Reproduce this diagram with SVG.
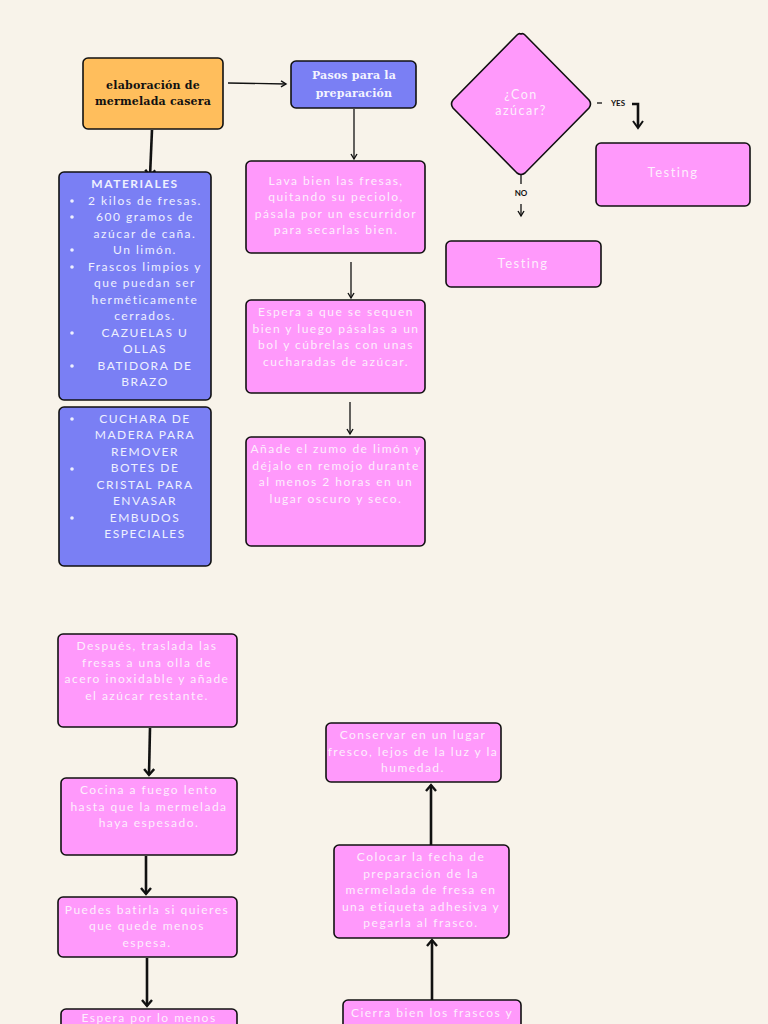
<svg xmlns="http://www.w3.org/2000/svg" width="768" height="1024" viewBox="0 0 768 1024">
<defs>
<style>
.bg{fill:#f8f3ea}
.box{stroke:#111;stroke-width:1.6}
.pink{fill:#ff99fb}
.blue{fill:#7a7ff4}
.orange{fill:#ffbe5c}
.t{font-family:Lato,"Liberation Sans",sans-serif;font-size:12px;fill:#fdeefd;text-anchor:middle;letter-spacing:1.5px}
.tl{font-size:13px}
.td{font-size:12.5px}
.tb{font-family:Lato,"Liberation Sans",sans-serif;font-size:12px;fill:#eef0ff;text-anchor:middle;letter-spacing:1.5px}
.serif{font-family:"DejaVu Serif","Liberation Serif",serif;font-size:11px;font-weight:bold;text-anchor:middle;letter-spacing:0.2px}
.lab{font-family:Lato,"Liberation Sans",sans-serif;font-size:8px;font-weight:bold;fill:#111;text-anchor:middle}
.c1{stroke:#111;stroke-width:1.3;fill:none}
.c2{stroke:#111;stroke-width:2.6;fill:none}
</style>
<marker id="ah" markerWidth="8" markerHeight="8" refX="6" refY="4" orient="auto" markerUnits="userSpaceOnUse">
<path d="M1,1 L6,4 L1,7" fill="none" stroke="#111" stroke-width="1.4"/>
</marker>
<marker id="ah2" markerWidth="12" markerHeight="12" refX="8" refY="6" orient="auto" markerUnits="userSpaceOnUse">
<path d="M2,1 L8,6 L2,11" fill="none" stroke="#111" stroke-width="2.4"/>
</marker>
</defs>
<rect class="bg" x="0" y="0" width="768" height="1024"/>

<g id="connectors">
<line class="c1" x1="228" y1="83" x2="286" y2="84" marker-end="url(#ah)"/>
<line class="c1" x1="354" y1="109" x2="354" y2="159" marker-end="url(#ah)"/>
<line class="c2" x1="152" y1="130" x2="150" y2="176" marker-end="url(#ah2)"/>
<line class="c1" x1="351" y1="262" x2="351" y2="298" marker-end="url(#ah)"/>
<line class="c1" x1="350" y1="402" x2="350" y2="434" marker-end="url(#ah)"/>
<line class="c2" x1="150" y1="728" x2="149" y2="775" marker-end="url(#ah2)"/>
<line class="c2" x1="146" y1="856" x2="146" y2="894" marker-end="url(#ah2)"/>
<line class="c2" x1="147" y1="958" x2="147" y2="1006" marker-end="url(#ah2)"/>
<line class="c2" x1="431" y1="845" x2="431" y2="785" marker-end="url(#ah2)"/>
<line class="c2" x1="432" y1="1000" x2="432" y2="940" marker-end="url(#ah2)"/>
<line class="c1" x1="597" y1="103" x2="602" y2="103"/>
<text class="lab" x="618" y="106">YES</text>
<path class="c2" d="M632,104 L638,104 L638,127" stroke-width="2"/>
<path d="M633,121 L638,128 L643,121" fill="none" stroke="#111" stroke-width="2"/>
<line class="c1" x1="521" y1="175" x2="521" y2="184"/>
<text class="lab" x="521" y="196">NO</text>
<line class="c1" x1="521" y1="204" x2="521" y2="216" marker-end="url(#ah)"/>
</g>

<g id="n-elaboracion">
<rect class="box orange" x="83" y="58" width="140" height="71" rx="5"/>
<text class="serif" x="153" y="89" fill="#111">elaboración de</text>
<text class="serif" x="153" y="105" fill="#111">mermelada casera</text>
</g>

<g id="n-pasos">
<rect class="box blue" x="291" y="61" width="125" height="47" rx="5"/>
<text class="serif" x="354" y="79" fill="#f4f4ff">Pasos para la</text>
<text class="serif" x="354" y="97" fill="#f4f4ff">preparación</text>
</g>

<g id="n-decision">
<path class="box pink" d="M521,34 Q523,33 525,35 L589,100 Q592,104 589,108 L525,173 Q521,176 517,173 L453,108 Q450,104 453,100 L517,35 Q519,33 521,34 Z"/>
<text class="t td" x="521" y="99">¿Con</text>
<text class="t td" x="521" y="115">azúcar?</text>
</g>

<g id="n-testing-yes">
<rect class="box pink" x="596" y="143" width="154" height="63" rx="5"/>
<text class="t tl" x="673" y="177">Testing</text>
</g>

<g id="n-testing-no">
<rect class="box pink" x="446" y="241" width="155" height="46" rx="5"/>
<text class="t tl" x="523" y="268">Testing</text>
</g>

<g id="n-materiales">
<rect class="box blue" x="59" y="172" width="152" height="228" rx="5"/>
<text class="tb" x="135" y="188" font-weight="bold" letter-spacing="1">MATERIALES</text>
<g fill="#eef0ff">
<circle cx="72" cy="201" r="1.8"/><circle cx="72" cy="217" r="1.8"/><circle cx="72" cy="250" r="1.8"/><circle cx="72" cy="267" r="1.8"/><circle cx="72" cy="333" r="1.8"/><circle cx="72" cy="366" r="1.8"/>
</g>
<text class="tb" x="145" y="205">2 kilos de fresas.</text>
<text class="tb" x="145" y="221">600 gramos de</text>
<text class="tb" x="145" y="238">azúcar de caña.</text>
<text class="tb" x="145" y="254">Un limón.</text>
<text class="tb" x="145" y="271">Frascos limpios y</text>
<text class="tb" x="145" y="287">que puedan ser</text>
<text class="tb" x="145" y="304">herméticamente</text>
<text class="tb" x="145" y="320">cerrados.</text>
<text class="tb" x="145" y="337">CAZUELAS U</text>
<text class="tb" x="145" y="353">OLLAS</text>
<text class="tb" x="145" y="370">BATIDORA DE</text>
<text class="tb" x="145" y="386">BRAZO</text>
</g>

<g id="n-materiales2">
<rect class="box blue" x="59" y="407" width="152" height="159" rx="5"/>
<g fill="#eef0ff">
<circle cx="72" cy="419" r="1.8"/><circle cx="72" cy="469" r="1.8"/><circle cx="72" cy="518" r="1.8"/>
</g>
<text class="tb" x="145" y="423">CUCHARA DE</text>
<text class="tb" x="145" y="439">MADERA PARA</text>
<text class="tb" x="145" y="456">REMOVER</text>
<text class="tb" x="145" y="472">BOTES DE</text>
<text class="tb" x="145" y="489">CRISTAL PARA</text>
<text class="tb" x="145" y="505">ENVASAR</text>
<text class="tb" x="145" y="522">EMBUDOS</text>
<text class="tb" x="145" y="538">ESPECIALES</text>
</g>

<g id="n-lava">
<rect class="box pink" x="246" y="161" width="179" height="92" rx="5"/>
<text class="t" x="336" y="185">Lava bien las fresas,</text>
<text class="t" x="336" y="201">quitando su peciolo,</text>
<text class="t" x="336" y="218">pásala por un escurridor</text>
<text class="t" x="336" y="234">para secarlas bien.</text>
</g>

<g id="n-espera">
<rect class="box pink" x="246" y="300" width="179" height="93" rx="5"/>
<text class="t" x="336" y="316">Espera a que se sequen</text>
<text class="t" x="336" y="333">bien y luego pásalas a un</text>
<text class="t" x="336" y="349">bol y cúbrelas con unas</text>
<text class="t" x="336" y="366">cucharadas de azúcar.</text>
</g>

<g id="n-anade">
<rect class="box pink" x="246" y="437" width="179" height="109" rx="5"/>
<text class="t" x="336" y="453">Añade el zumo de limón y</text>
<text class="t" x="336" y="470">déjalo en remojo durante</text>
<text class="t" x="336" y="486">al menos 2 horas en un</text>
<text class="t" x="336" y="503">lugar oscuro y seco.</text>
</g>

<g id="n-despues">
<rect class="box pink" x="58" y="634" width="179" height="93" rx="5"/>
<text class="t" x="147" y="650">Después, traslada las</text>
<text class="t" x="147" y="667">fresas a una olla de</text>
<text class="t" x="147" y="683">acero inoxidable y añade</text>
<text class="t" x="147" y="700">el azúcar restante.</text>
</g>

<g id="n-cocina">
<rect class="box pink" x="61" y="778" width="176" height="77" rx="5"/>
<text class="t" x="149" y="794">Cocina a fuego lento</text>
<text class="t" x="149" y="811">hasta que la mermelada</text>
<text class="t" x="149" y="827">haya espesado.</text>
</g>

<g id="n-puedes">
<rect class="box pink" x="58" y="897" width="179" height="60" rx="5"/>
<text class="t" x="147" y="914">Puedes batirla si quieres</text>
<text class="t" x="147" y="930">que quede menos</text>
<text class="t" x="147" y="947">espesa.</text>
</g>

<g id="n-espera2">
<rect class="box pink" x="61" y="1009" width="176" height="40" rx="5"/>
<text class="t" x="149" y="1022">Espera por lo menos</text>
</g>

<g id="n-conservar">
<rect class="box pink" x="326" y="723" width="175" height="59" rx="5"/>
<text class="t" x="413" y="739">Conservar en un lugar</text>
<text class="t" x="413" y="756">fresco, lejos de la luz y la</text>
<text class="t" x="413" y="772">humedad.</text>
</g>

<g id="n-colocar">
<rect class="box pink" x="334" y="845" width="175" height="93" rx="5"/>
<text class="t" x="421" y="861">Colocar la fecha de</text>
<text class="t" x="421" y="878">preparación de la</text>
<text class="t" x="421" y="894">mermelada de fresa en</text>
<text class="t" x="421" y="911">una etiqueta adhesiva y</text>
<text class="t" x="421" y="927">pegarla al frasco.</text>
</g>

<g id="n-cierra">
<rect class="box pink" x="343" y="1000" width="178" height="50" rx="5"/>
<text class="t" x="432" y="1017">Cierra bien los frascos y</text>
</g>
</svg>
